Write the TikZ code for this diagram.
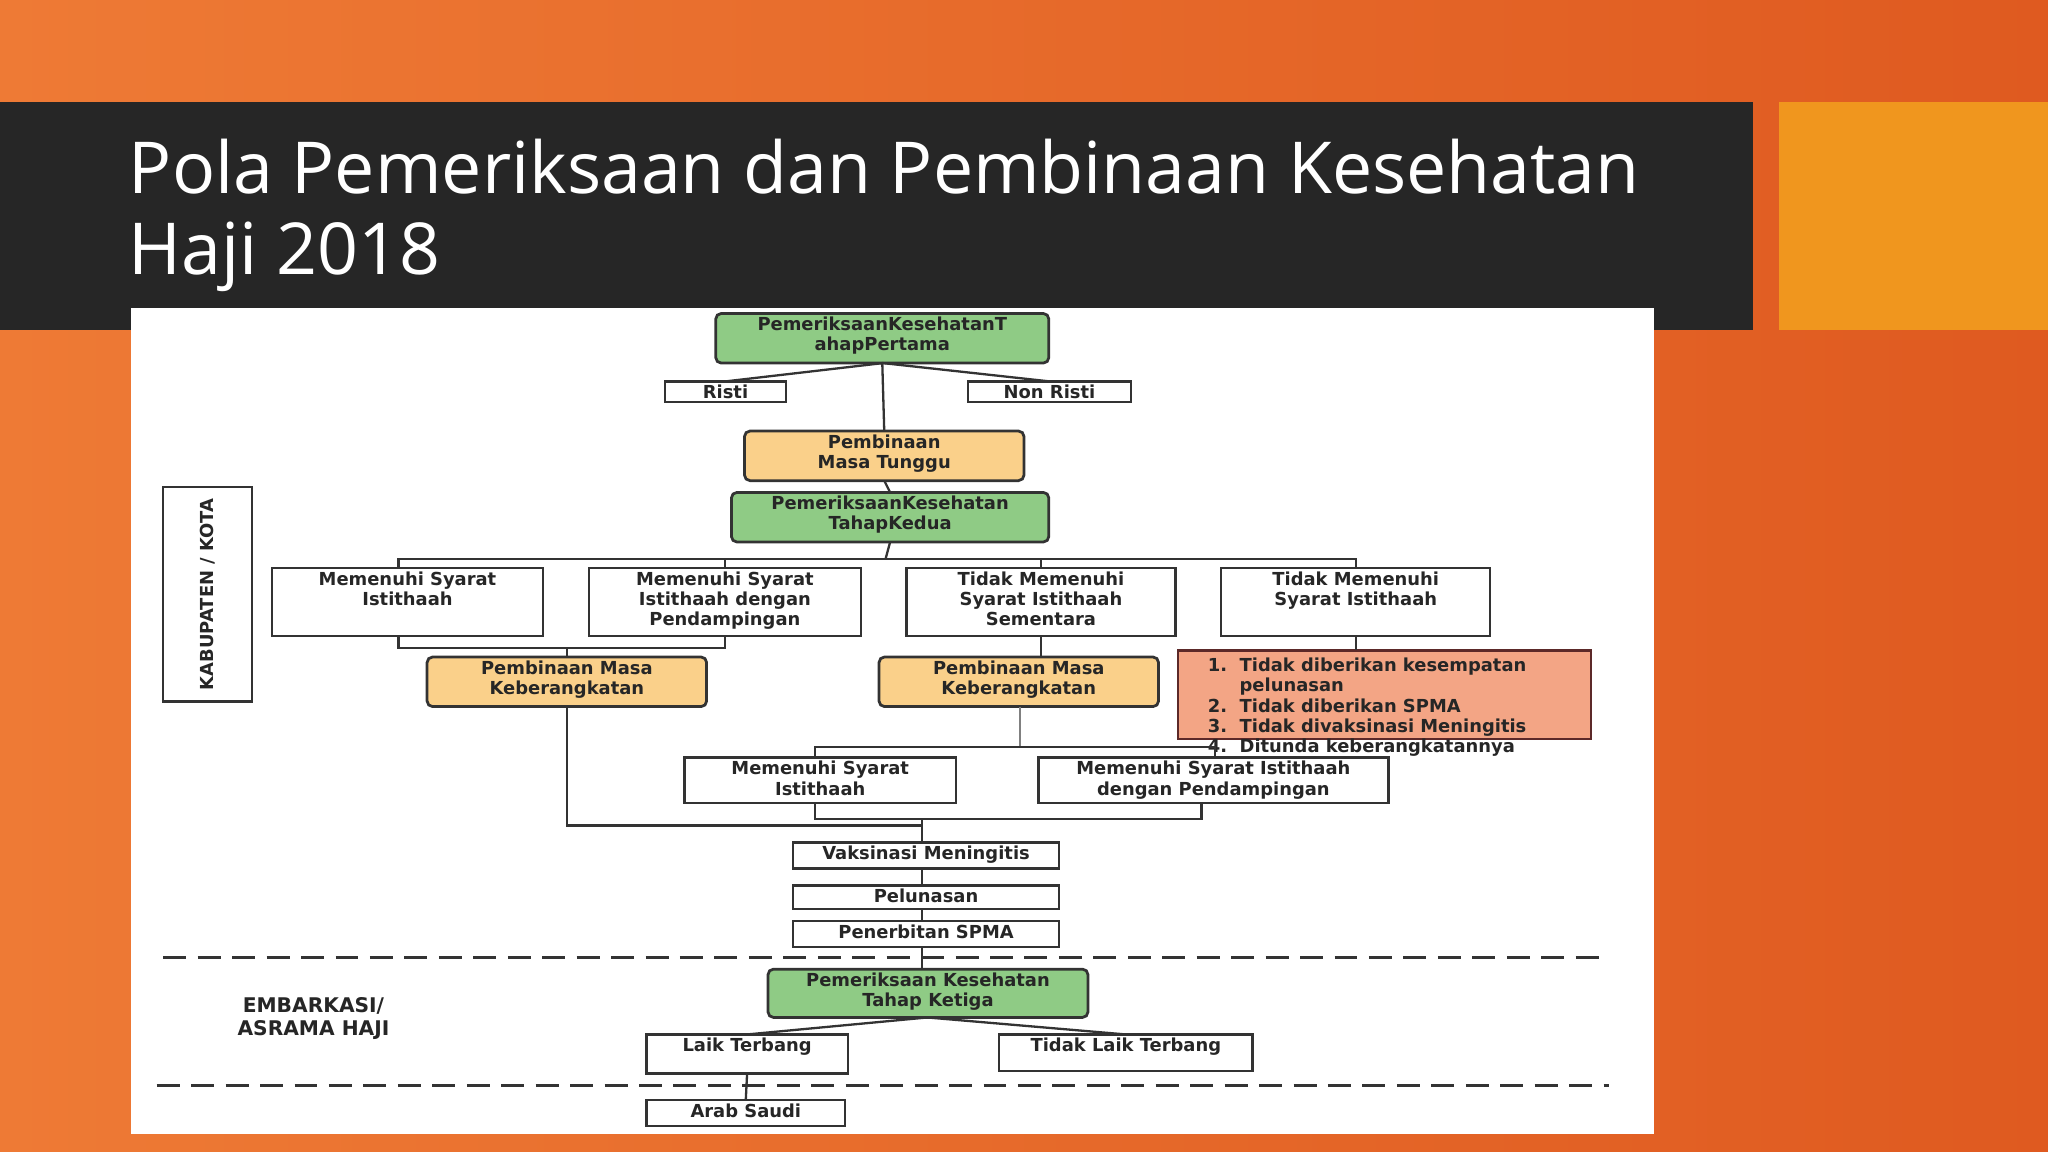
\documentclass[tikz,border=0pt]{standalone}
\usepackage{fontspec}
\setmainfont{Open Sans}
\newfontfamily\dg{DejaVu Sans}
\definecolor{bgA}{HTML}{EE7A35}
\definecolor{bgB}{HTML}{DF5A20}
\definecolor{bar}{HTML}{262626}
\definecolor{sq}{HTML}{F0961E}
\definecolor{gr}{HTML}{8FCB85}
\definecolor{ye}{HTML}{FAD08A}
\definecolor{rd}{HTML}{F3A585}
\definecolor{ln}{HTML}{333333}
\tikzset{
 pl/.style={draw=ln,line width=0.5pt,fill=white,inner sep=0,outer sep=0},
 grn/.style={pl,fill=gr,rounded corners=1.2pt,line width=0.6pt},
 yel/.style={pl,fill=ye,rounded corners=1.2pt,line width=0.6pt},
 red/.style={pl,fill=rd,draw=ln!80!red},
 txt/.style={font=\dg\bfseries\fontsize{3.9}{4.4}\selectfont,align=center,inner sep=0.6pt,text=black!85},
 con/.style={draw=ln,line width=0.5pt},
 dsh/.style={draw=ln,line width=0.5pt,dash pattern=on 5pt off 2.5pt}
}
\newcommand\bx[7]{%
 \node[#2,minimum width={(#5-#3)*0.01cm},minimum height={(#6-#4)*0.01cm},anchor=north west] (#1) at (#3,#4) {};
 \node[txt,anchor=north] at (#1.north) {#7};}
\begin{document}
\begin{tikzpicture}[x=0.01cm,y=-0.01cm]
\useasboundingbox (0,0) rectangle (1568,882);
\shade[left color=bgA,right color=bgB] (0,0) rectangle (1568,882);
\fill[bar] (0,78) rectangle (1342,253);
\fill[sq] (1362,78) rectangle (1568,253);
\fill[white] (100,236) rectangle (1266,868);
\node[anchor=north west,text=white,font=\fontsize{15.6}{17.6}\selectfont,align=left,inner sep=0] (title) at (98,106) {Pola Pemeriksaan dan Pembinaan Kesehatan\\Haji 2018};
% boxes
\bx{t1}{grn}{548}{240}{803}{278}{PemeriksaanKesehatanT\\ahapPertama}
\bx{ri}{pl}{509}{292}{602}{308}{Risti}
\bx{nr}{pl}{741}{292}{866}{308}{Non Risti}
\bx{pmt}{yel}{570}{330}{784}{368}{Pembinaan\\Masa Tunggu}
\bx{t2}{grn}{560}{377}{803}{415}{PemeriksaanKesehatan\\TahapKedua}
\bx{a}{pl}{208}{435}{416}{487}{Memenuhi Syarat\\Istithaah}
\bx{b}{pl}{451}{435}{659}{487}{Memenuhi Syarat\\Istithaah dengan\\Pendampingan}
\bx{c}{pl}{694}{435}{900}{487}{Tidak Memenuhi\\Syarat Istithaah\\Sementara}
\bx{d}{pl}{935}{435}{1141}{487}{Tidak Memenuhi\\Syarat Istithaah}
\bx{k1}{yel}{327}{503}{541}{541}{Pembinaan Masa\\Keberangkatan}
\bx{k2}{yel}{673}{503}{887}{541}{Pembinaan Masa\\Keberangkatan}
\node[red,minimum width=3.16cm,minimum height=0.68cm,anchor=north west] (r) at (902,498) {};
\node[txt,anchor=north west,align=left] at (922,501) {1.\ \ Tidak diberikan kesempatan\\\phantom{1.}\ \ pelunasan\\2.\ \ Tidak diberikan SPMA\\3.\ \ Tidak divaksinasi Meningitis\\4.\ \ Ditunda keberangkatannya};
\bx{e}{pl}{524}{580}{732}{615}{Memenuhi Syarat\\Istithaah}
\bx{f}{pl}{795}{580}{1063}{615}{Memenuhi Syarat Istithaah\\dengan Pendampingan}
\bx{v}{pl}{607}{645}{811}{665}{Vaksinasi Meningitis}
\bx{p}{pl}{607}{678}{811}{696}{Pelunasan}
\bx{s}{pl}{607}{705}{811}{725}{Penerbitan SPMA}
\bx{t3}{grn}{588}{742}{833}{779}{Pemeriksaan Kesehatan\\Tahap Ketiga}
\bx{lt}{pl}{495}{792}{649}{822}{Laik Terbang}
\bx{tl}{pl}{765}{792}{959}{820}{Tidak Laik Terbang}
\bx{as}{pl}{495}{842}{647}{862}{Arab Saudi}
\node[pl,minimum width=0.68cm,minimum height=1.64cm,anchor=north west] (kk) at (125,373) {};
\node[txt,rotate=90] at (kk) {KABUPATEN / KOTA};
\node[txt,font=\dg\bfseries\fontsize{4.4}{5}\selectfont] (emb) at (240,780) {EMBARKASI/\\ASRAMA HAJI};
% connectors
\coordinate (t1b) at (676,278);
\draw[con] (t1b) -- (ri.north);
\draw[con] (t1b) -- (nr.north);
\draw[con] (t1.south) -- (pmt.north);
\draw[con] (pmt.south) -- (t2.north);
\draw[con] (t2.south) -- (678,428);
\draw[con] (305,435) -- (305,428) -- (1038,428) -- (1038,435);
\draw[con] (555,428) -- (555,435);
\draw[con] (797,428) -- (797,435);
\draw[con] (305,487) -- (305,496) -- (555,496) -- (555,487);
\draw[con] (434,496) -- (k1.north);
\draw[con] (797,487) -- (797,503);
\draw[con] (1038,487) -- (1038,498);
\draw[con,draw=gray] (781,541) -- (781,572);
\draw[con] (624,580) -- (624,572) -- (930,572) -- (930,580);
\draw[con] (624,615) -- (624,627) -- (920,627) -- (920,615);
\draw[con] (k1.south) -- (434,632) -- (706,632) -- (706,645);
\draw[con] (706,627) -- (706,632);
\draw[con] (706,665) -- (706,678);
\draw[con] (706,696) -- (706,705);
\draw[con] (706,725) -- (706,742);
\draw[dsh] (125,733) -- (1232,733);
\draw[con] (710,779) -- (572,792);
\draw[con] (710,779) -- (862,792);
\draw[dsh] (120,831) -- (1232,831);
\draw[con] (lt.south) -- (as.north);
\end{tikzpicture}
\end{document}
